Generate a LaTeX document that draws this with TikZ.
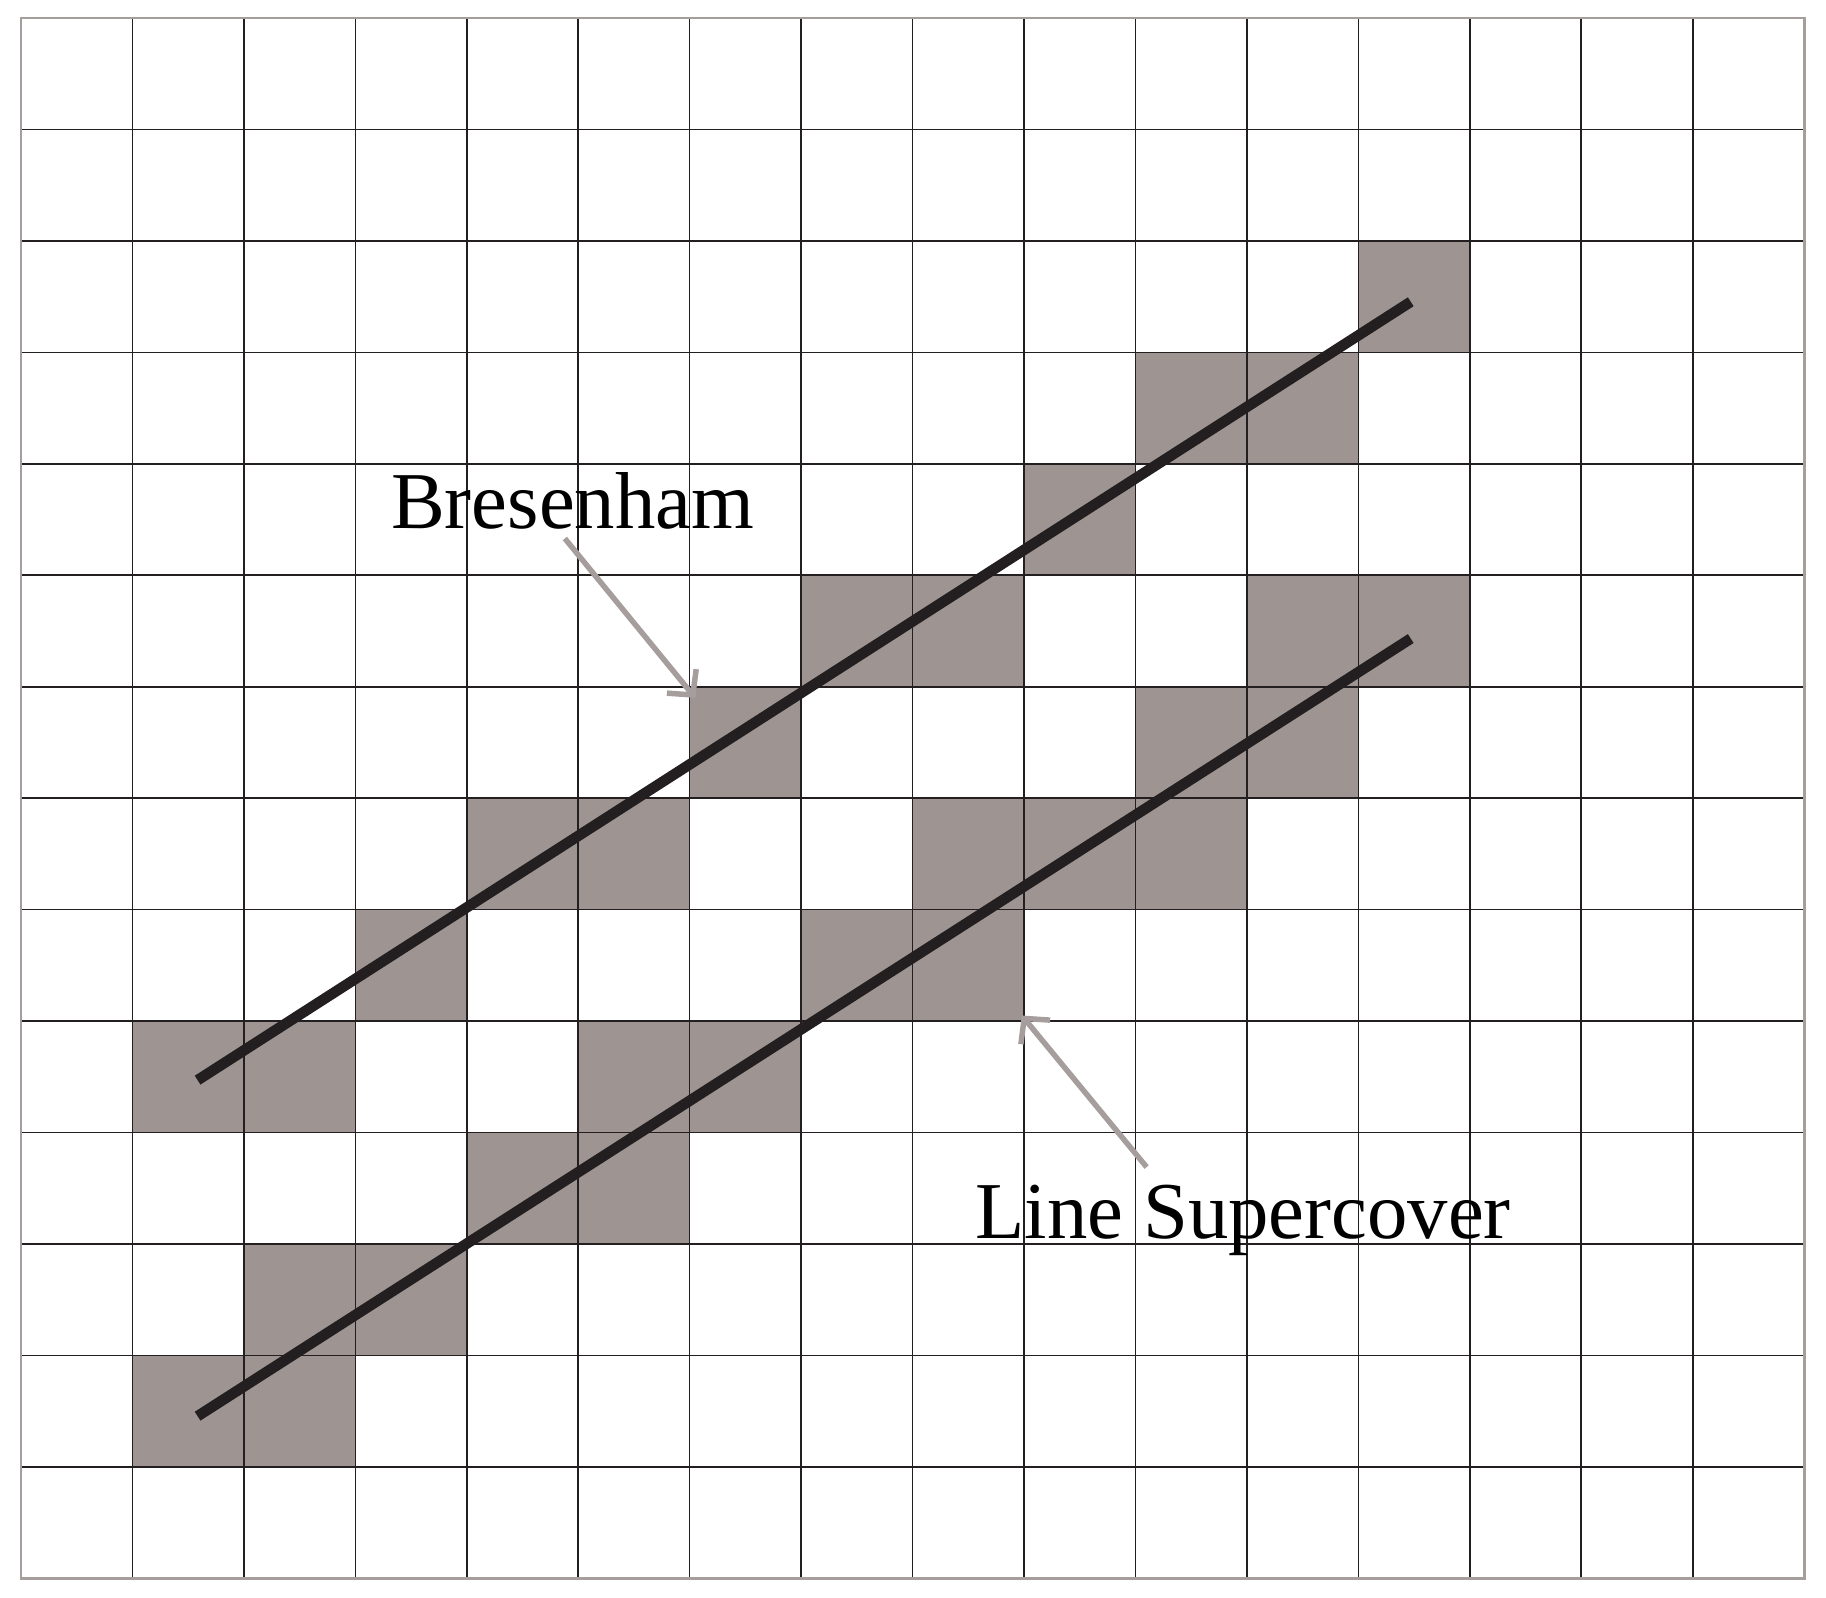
\documentclass[tikz,border=0pt]{standalone}
\usepackage{fontspec}
\setmainfont{Liberation Serif}
\usepackage{tikz}
\usetikzlibrary{arrows.meta}
\definecolor{pixelgrey}{RGB}{158,149,147}
\definecolor{arrowgrey}{RGB}{166,158,157}
\definecolor{ink}{RGB}{35,31,32}
\tikzstyle{pixel}=[fill=pixelgrey]
\tikzstyle{gridline}=[ink, line width=0.4pt]
\tikzstyle{frame}=[arrowgrey, line width=0.7pt]
\tikzstyle{raster}=[ink, line width=2.7pt]
\tikzstyle{pointer}=[arrowgrey, line width=1.4pt, -{Straight Barb[length=1.6mm,width=3.4mm]}]
\tikzstyle{caption}=[inner sep=0pt, anchor=base, font=\fontsize{20.6}{24}\selectfont]
\newcommand{\pixel}[2]{\fill[pixel] (#1,#2) rectangle ++(1,1);}

\begin{document}
\begin{tikzpicture}
            \useasboundingbox (-0.188,-0.168) rectangle (16.196,14.162);
            % Bresenham cells
            \pixel{12}{11}
            \pixel{10}{10} \pixel{11}{10}
            \pixel{9}{9}
            \pixel{7}{8} \pixel{8}{8}
            \pixel{6}{7}
            \pixel{4}{6} \pixel{5}{6}
            \pixel{3}{5}
            \pixel{1}{4} \pixel{2}{4}
            % supercover cells
            \pixel{11}{8} \pixel{12}{8}
            \pixel{10}{7} \pixel{11}{7}
            \pixel{8}{6} \pixel{9}{6} \pixel{10}{6}
            \pixel{7}{5} \pixel{8}{5}
            \pixel{5}{4} \pixel{6}{4}
            \pixel{4}{3} \pixel{5}{3}
            \pixel{2}{2} \pixel{3}{2}
            \pixel{1}{1} \pixel{2}{1}
            \draw[gridline] (0,0) grid (16,14);
            \draw[frame] (0,0) rectangle (16,14);
            \coordinate (b1) at (1.585,4.47);
            \coordinate (b2) at (12.47,11.454);
            \coordinate (s1) at (1.585,1.455);
            \coordinate (s2) at (12.47,8.432);
            \draw[raster] (b1) -- (b2);
            \draw[raster] (s1) -- (s2);
            \node[caption] (bres) at (4.95,9.42) {Bresenham};
            \node[caption] (super) at (10.965,3.05) {Line Supercover};
            \coordinate (bresfrom) at (4.88,9.33);
            \coordinate (bresto) at (6.05,7.9);
            \coordinate (superfrom) at (10.10,3.69);
            \coordinate (superto) at (8.98,5.05);
            \draw[pointer] (bresfrom) -- (bresto);
            \draw[pointer] (superfrom) -- (superto);
        \end{tikzpicture}
\end{document}
